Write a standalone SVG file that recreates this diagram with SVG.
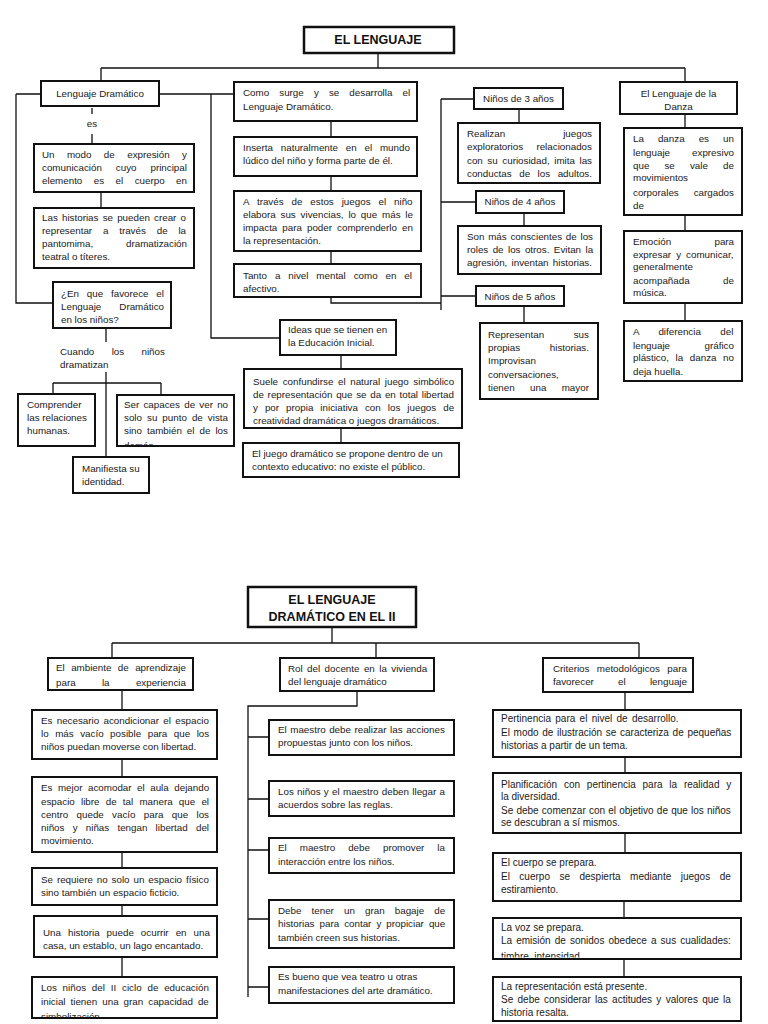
<svg xmlns="http://www.w3.org/2000/svg" width="768" height="1024" viewBox="0 0 768 1024">
<style>
.b{fill:#fff;stroke:#111;stroke-width:2}
.bt{fill:#fff;stroke:#111;stroke-width:2.5}
.c{fill:none;stroke:#111;stroke-width:1.3}
text{font-family:"Liberation Sans",Arial,sans-serif;font-size:9.8px;fill:#1a1a1a}
.h{font-weight:bold;font-size:12.5px;fill:#111}
.m{text-anchor:middle}
.r{font-size:10px}
</style>
<defs>
<clipPath id="cp-ser"><rect x="119" y="397" width="113" height="48.5"/></clipPath>
<clipPath id="cp-ninos"><rect x="34" y="979" width="181" height="38"/></clipPath>
<clipPath id="cp-voz"><rect x="495" y="920" width="244" height="37.5"/></clipPath>
</defs>
<rect width="768" height="1024" fill="#fff"/>

<g id="connectors">
<path class="c" d="M378,53V68M101,68H685M101,68V81M685,68V82"/>
<path class="c" d="M159,94H234M211,94V338H280"/>
<path class="c" d="M16,94H41M16,94V303H53"/>
<path class="c" d="M92,108V114M92,134V144M101,192V208"/>
<path class="c" d="M106,328V342M106,372V457M53,383H161M53,383V394M161,383V395"/>
<path class="c" d="M331,121V137M331,176V191M331,251V264M331,297V303H441"/>
<path class="c" d="M441,99V310M441,99H474M441,202H476M441,296H476"/>
<path class="c" d="M519,109V123M524,213V226M524,306V323"/>
<path class="c" d="M685,114V128M685,215V231M685,303V321"/>
<path class="c" d="M341,355V369M341,428V443"/>
<path class="c" d="M332,627V643M112,643H639M112,643V658M376,643V658M639,643V658"/>
<path class="c" d="M122,690V710M122,759V777M122,852V868M122,905V916M122,957V977"/>
<path class="c" d="M357,691V706H248V997M248,737H269M248,799H269M248,850H269M248,919H269M248,987H269"/>
<path class="c" d="M625,692V710M625,757V773M625,833V853M624,901V918M624,959V977"/>
</g>

<g id="n-title"><rect class="bt" x="304" y="27" width="150" height="26"/><text class="h m" x="378" y="44">EL LENGUAJE</text></g>
<g id="n-ldram"><rect class="b" x="41" y="81" width="118" height="25"/><text class="m" x="100" y="97">Lenguaje Dramático</text></g>
<g id="n-es"><text class="m" x="92" y="127">es</text></g>
<g id="n-unmodo"><rect class="b" x="34" y="144" width="160" height="48"/>
<text x="42" y="158" style="word-spacing:9.7px">Un modo de expresión y</text>
<text x="42" y="171" style="word-spacing:11.2px">comunicación cuyo principal</text>
<text x="42" y="184" style="word-spacing:8.75px">elemento es el cuerpo en</text></g>
<g id="n-historias"><rect class="b" x="34" y="208" width="160" height="60"/>
<text x="42" y="221" style="word-spacing:1.46px">Las historias se pueden crear o</text>
<text x="42" y="234" style="word-spacing:8.1px">representar a través de la</text>
<text x="42" y="247" style="word-spacing:30.1px">pantomima, dramatización</text>
<text x="42" y="260">teatral o títeres.</text></g>
<g id="n-favorece"><rect class="b" x="53" y="282" width="118" height="46"/>
<text x="61" y="297" style="word-spacing:5.1px">¿En que favorece el</text>
<text x="61" y="310" style="word-spacing:15.3px">Lenguaje Dramático</text>
<text x="61" y="323">en los niños?</text></g>
<g id="n-cuando">
<text x="60" y="355" style="word-spacing:14.6px">Cuando los niños</text>
<text x="60" y="368">dramatizan</text></g>
<g id="n-comprender"><rect class="b" x="18" y="394" width="77" height="52"/>
<text x="27" y="408">Comprender</text><text x="27" y="421">las relaciones</text><text x="27" y="434">humanas.</text></g>
<g id="n-ser"><rect class="b" x="117" y="395" width="117" height="51"/>
<text x="124" y="408" style="word-spacing:1.5px">Ser capaces de ver no</text>
<text x="124" y="421" style="word-spacing:2.3px">solo su punto de vista</text>
<text x="124" y="434" style="word-spacing:2.3px">sino también el de los</text>
<text x="124" y="449" clip-path="url(#cp-ser)">demás</text></g>
<g id="n-manifiesta"><rect class="b" x="73" y="457" width="76" height="36"/>
<text x="82" y="472">Manifiesta su</text><text x="82" y="485">identidad.</text></g>

<g id="n-comosurge"><rect class="b" x="234" y="82" width="183" height="39"/>
<text x="243" y="96" style="word-spacing:7.4px">Como surge y se desarrolla el</text>
<text x="243" y="110">Lenguaje Dramático.</text></g>
<g id="n-inserta"><rect class="b" x="234" y="137" width="183" height="39"/>
<text x="243" y="151" style="word-spacing:5.1px">Inserta naturalmente en el mundo</text>
<text x="243" y="164">lúdico del niño y forma parte de él.</text></g>
<g id="n-traves"><rect class="b" x="234" y="191" width="187" height="60"/>
<text x="243" y="205" style="word-spacing:5.2px">A través de estos juegos el niño</text>
<text x="243" y="218" style="word-spacing:2.1px">elabora sus vivencias, lo que más le</text>
<text x="243" y="231" style="word-spacing:2.3px">impacta para poder comprenderlo en</text>
<text x="243" y="244">la representación.</text></g>
<g id="n-tanto"><rect class="b" x="234" y="264" width="187" height="33"/>
<text x="243" y="279" style="word-spacing:5.2px">Tanto a nivel mental como en el</text>
<text x="243" y="292">afectivo.</text></g>

<g id="n-n3"><rect class="b" x="474" y="88" width="89" height="21"/><text class="m" x="518.5" y="102">Niños de 3 años</text></g>
<g id="n-realizan"><rect class="b" x="458" y="123" width="142" height="60"/>
<text x="467" y="137" style="word-spacing:55.3px">Realizan juegos</text>
<text x="467" y="150" style="word-spacing:10.6px">exploratorios relacionados</text>
<text x="467" y="164" style="word-spacing:1.85px">con su curiosidad, imita las</text>
<text x="467" y="177" style="word-spacing:4.8px">conductas de los adultos.</text></g>
<g id="n-n4"><rect class="b" x="476" y="191" width="88" height="22"/><text class="m" x="520" y="205">Niños de 4 años</text></g>
<g id="n-son"><rect class="b" x="458" y="226" width="143" height="48"/>
<text x="467" y="240" style="word-spacing:1px">Son más conscientes de los</text>
<text x="467" y="253" style="word-spacing:1.7px">roles de los otros. Evitan la</text>
<text x="467" y="266" style="word-spacing:1.5px">agresión, inventan historias.</text></g>
<g id="n-n5"><rect class="b" x="476" y="286" width="88" height="20"/><text class="m" x="520" y="300">Niños de 5 años</text></g>
<g id="n-representan"><rect class="b" x="480" y="323" width="118" height="76"/>
<text x="488" y="338" style="word-spacing:26.9px">Representan sus</text>
<text x="488" y="351" style="word-spacing:26.9px">propias historias.</text>
<text x="488" y="364">Improvisan</text>
<text x="488" y="378">conversaciones,</text>
<text x="488" y="391" style="word-spacing:12.6px">tienen una mayor</text></g>

<g id="n-danza"><rect class="b" x="620" y="82" width="117" height="32"/>
<text class="m" x="678.5" y="97">El Lenguaje de la</text><text class="m" x="678.5" y="110">Danza</text></g>
<g id="n-ladanza"><rect class="b" x="624" y="128" width="118" height="87"/>
<text x="633" y="142" style="word-spacing:11.3px">La danza es un</text>
<text x="633" y="156" style="word-spacing:19.3px">lenguaje expresivo</text>
<text x="633" y="169" style="word-spacing:12.4px">que se vale de</text>
<text x="633" y="181">movimientos</text>
<text x="633" y="196" style="word-spacing:12.2px">corporales cargados</text>
<text x="633" y="209">de</text></g>
<g id="n-emocion"><rect class="b" x="624" y="231" width="118" height="72"/>
<text x="633" y="245" style="word-spacing:40.6px">Emoción para</text>
<text x="633" y="258" style="word-spacing:2.3px">expresar y comunicar,</text>
<text x="633" y="270">generalmente</text>
<text x="633" y="284" style="word-spacing:30.7px">acompañada de</text>
<text x="633" y="296">música.</text></g>
<g id="n-diferencia"><rect class="b" x="624" y="321" width="118" height="60"/>
<text x="633" y="335" style="word-spacing:16.7px">A diferencia del</text>
<text x="633" y="349" style="word-spacing:31.8px">lenguaje gráfico</text>
<text x="633" y="361" style="word-spacing:3.9px">plástico, la danza no</text>
<text x="633" y="375">deja huella.</text></g>

<g id="n-ideas"><rect class="b" x="280" y="320" width="116" height="35"/>
<text x="288" y="333">Ideas que se tienen en</text>
<text x="288" y="346">la Educación Inicial.</text></g>
<g id="n-suele"><rect class="b" x="244" y="369" width="218" height="59"/>
<text x="253" y="385" style="word-spacing:1.9px">Suele confundirse el natural juego simbólico</text>
<text x="253" y="398" style="word-spacing:1px">de representación que se da en total libertad</text>
<text x="253" y="411" style="word-spacing:4.3px">y por propia iniciativa con los juegos de</text>
<text x="253" y="424">creatividad dramática o juegos dramáticos.</text></g>
<g id="n-eljuego"><rect class="b" x="243" y="443" width="216" height="34"/>
<text x="252" y="457">El juego dramático se propone dentro de un</text>
<text x="252" y="470">contexto educativo: no existe el público.</text></g>

<g id="n-title2"><rect class="bt" x="248" y="587" width="168" height="40"/>
<text class="h m" x="332" y="604">EL LENGUAJE</text><text class="h m" x="332" y="621">DRAMÁTICO EN EL II</text></g>
<g id="n-ambiente"><rect class="b" x="48" y="658" width="145" height="32"/>
<text x="56" y="671" style="word-spacing:3.7px">El ambiente de aprendizaje</text>
<text x="56" y="686" style="word-spacing:23.6px">para la experiencia</text></g>
<g id="n-necesario"><rect class="b" x="32" y="710" width="185" height="49"/>
<text x="41" y="724" style="word-spacing:1.55px">Es necesario acondicionar el espacio</text>
<text x="41" y="737" style="word-spacing:3.8px">lo más vacío posible para que los</text>
<text x="41" y="750">niños puedan moverse con libertad.</text></g>
<g id="n-mejor"><rect class="b" x="32" y="777" width="185" height="75"/>
<text x="41" y="791" style="word-spacing:2.8px">Es mejor acomodar el aula dejando</text>
<text x="41" y="805" style="word-spacing:3.5px">espacio libre de tal manera que el</text>
<text x="41" y="818" style="word-spacing:5.6px">centro quede vacío para que los</text>
<text x="41" y="831" style="word-spacing:5.5px">niños y niñas tengan libertad del</text>
<text x="41" y="844">movimiento.</text></g>
<g id="n-requiere"><rect class="b" x="32" y="868" width="185" height="37"/>
<text x="41" y="883" style="word-spacing:1.2px">Se requiere no solo un espacio físico</text>
<text x="41" y="896">sino también un espacio ficticio.</text></g>
<g id="n-historia"><rect class="b" x="34" y="916" width="183" height="41"/>
<text x="43" y="936" style="word-spacing:4.3px">Una historia puede ocurrir en una</text>
<text x="43" y="949">casa, un establo, un lago encantado.</text></g>
<g id="n-losninos"><rect class="b" x="32" y="977" width="185" height="41"/>
<text x="41" y="991" style="word-spacing:3.1px">Los niños del II ciclo de educación</text>
<text x="41" y="1005" style="word-spacing:2.3px">inicial tienen una gran capacidad de</text>
<text x="41" y="1020" clip-path="url(#cp-ninos)">simbolización</text></g>

<g id="n-rol"><rect class="b" x="280" y="658" width="154" height="33"/>
<text x="288" y="672" style="word-spacing:1.7px">Rol del docente en la vivienda</text>
<text x="288" y="685">del lenguaje dramático</text></g>
<g id="n-d1"><rect class="b" x="269" y="720" width="185" height="35"/>
<text x="278" y="733" style="word-spacing:0.8px">El maestro debe realizar las acciones</text>
<text x="278" y="746">propuestas junto con los niños.</text></g>
<g id="n-d2"><rect class="b" x="269" y="781" width="185" height="35"/>
<text x="278" y="795" style="word-spacing:0.6px">Los niños y el maestro deben llegar a</text>
<text x="278" y="808">acuerdos sobre las reglas.</text></g>
<g id="n-d3"><rect class="b" x="269" y="838" width="185" height="35"/>
<text x="278" y="851" style="word-spacing:10.3px">El maestro debe promover la</text>
<text x="278" y="865">interacción entre los niños.</text></g>
<g id="n-d4"><rect class="b" x="269" y="900" width="185" height="48"/>
<text x="278" y="914" style="word-spacing:7.4px">Debe tener un gran bagaje de</text>
<text x="278" y="927" style="word-spacing:2.3px">historias para contar y propiciar que</text>
<text x="278" y="941">también creen sus historias.</text></g>
<g id="n-d5"><rect class="b" x="269" y="967" width="185" height="36"/>
<text x="278" y="980">Es bueno que vea teatro u otras</text>
<text x="278" y="994">manifestaciones del arte dramático.</text></g>

<g id="n-criterios"><rect class="b" x="543" y="658" width="150" height="34"/>
<text x="553" y="672" style="word-spacing:4.6px">Criterios metodológicos para</text>
<text x="553" y="685" style="word-spacing:21.5px">favorecer el lenguaje</text></g>
<g id="n-pertinencia"><rect class="b" x="493" y="710" width="248" height="47"/>
<text class="r" x="501" y="722" style="word-spacing:1.5px">Pertinencia para el nivel de desarrollo.</text>
<text class="r" x="501" y="736" style="word-spacing:0.9px">El modo de ilustración se caracteriza de pequeñas</text>
<text class="r" x="501" y="749">historias a partir de un tema.</text></g>
<g id="n-planificacion"><rect class="b" x="493" y="773" width="248" height="60"/>
<text class="r" x="501" y="788" style="word-spacing:4px">Planificación con pertinencia para la realidad y</text>
<text class="r" x="501" y="800">la diversidad.</text>
<text class="r" x="501" y="814" style="word-spacing:0.4px">Se debe comenzar con el objetivo de que los niños</text>
<text class="r" x="501" y="826">se descubran a sí mismos.</text></g>
<g id="n-cuerpo"><rect class="b" x="493" y="853" width="248" height="48"/>
<text class="r" x="501" y="866">El cuerpo se prepara.</text>
<text class="r" x="501" y="880" style="word-spacing:6.7px">El cuerpo se despierta mediante juegos de</text>
<text class="r" x="501" y="893">estiramiento.</text></g>
<g id="n-voz"><rect class="b" x="493" y="918" width="248" height="41"/>
<text class="r" x="501" y="931">La voz se prepara.</text>
<text class="r" x="501" y="944" style="word-spacing:1.3px">La emisión de sonidos obedece a sus cualidades:</text>
<text class="r" x="501" y="960" clip-path="url(#cp-voz)">timbre, intensidad</text></g>
<g id="n-representacion"><rect class="b" x="493" y="977" width="248" height="44"/>
<text class="r" x="501" y="990">La representación está presente.</text>
<text class="r" x="501" y="1003" style="word-spacing:1.5px">Se debe considerar las actitudes y valores que la</text>
<text class="r" x="501" y="1016">historia resalta.</text></g>
</svg>
